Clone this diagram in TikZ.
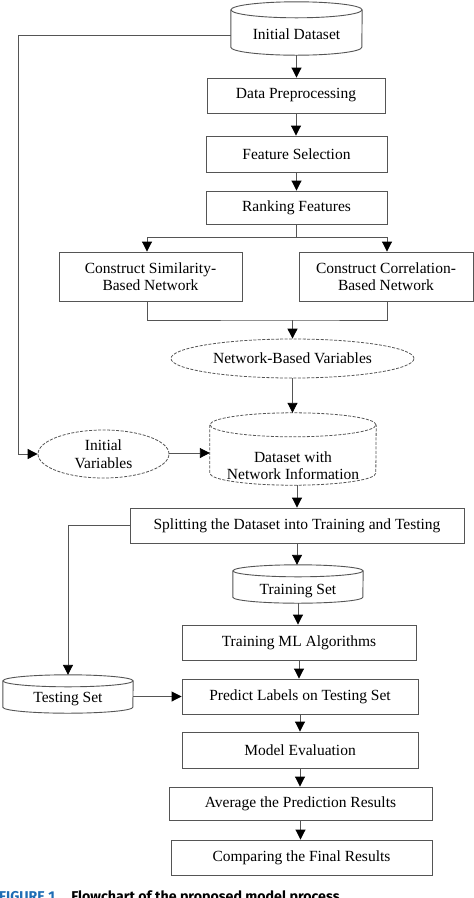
\documentclass[tikz,border=0pt]{standalone}
\usepackage{fontspec}
\setmainfont{Liberation Serif}
\newfontfamily\capfont{Fira Sans}
\usetikzlibrary{arrows.meta,shapes.geometric,calc}
\definecolor{lc}{HTML}{555555}
\definecolor{capblue}{HTML}{1F6DB5}
\newcommand\cylout[4]{%
  \draw[#4] ($(#1.north)+(0pt,-#3pt)$) ellipse [x radius=#2pt, y radius=#3pt];
  \draw[#4] ($(#1.north west)+(0pt,-#3pt)$) -- ($(#1.south west)+(0pt,#3pt)$)
     arc[start angle=180, end angle=360, x radius=#2pt, y radius=#3pt]
     -- ($(#1.north east)+(0pt,-#3pt)$);
}
\begin{document}
\begin{tikzpicture}[x=1pt,y=-1pt,
  every node/.style={font=\fontsize{15.5}{17.5}\selectfont, inner sep=0pt, align=center},
  box/.style 2 args={draw=lc, line width=0.9pt, rectangle, minimum width=#1pt, minimum height=#2pt},
  cyl/.style n args={3}{rectangle, minimum width=#1pt, minimum height=#2pt, text height=#3pt, text depth=3.5pt},
  dell/.style 2 args={draw=lc, line width=0.8pt, ellipse, dash pattern=on 3pt off 1.5pt, minimum width=#1pt, minimum height=#2pt},
  outl/.style={draw=lc, line width=0.9pt},
  doutl/.style={draw=lc, line width=0.8pt, dash pattern=on 3pt off 1.5pt},
  line/.style={draw=lc, line width=0.9pt},
  arr/.style={draw=lc, line width=0.9pt, -{Triangle[length=10pt,width=10pt,color=black]}}]
\useasboundingbox (0,0) rectangle (474,898);
\fill[white] (0,0) rectangle (474,898);

% nodes
\node[cyl={131}{53}{24.5}] (ids) at (296.5,28.5) {Initial Dataset};
\node[box={178}{35}] (dp) at (296,95.5) {Data Preprocessing};
\node[box={181}{36}] (fs) at (296.5,154) {Feature Selection};
\node[box={181}{33}] (rf) at (296.5,207.5) {Ranking Features};
\node[box={183}{49}] (sim) at (150.5,276.5) {Construct Similarity-\\Based Network};
\node[box={174}{49}] (cor) at (386,276.5) {Construct Correlation-\\Based Network};
\node[dell={243}{39}] (nbv) at (292.5,358.5) {Network-Based Variables};
\node[cyl={166}{72}{64.5}] (dwn) at (293,449) {Dataset with\\Network Information};
\node[dell={131}{48}] (iv) at (103.5,454) {Initial\\Variables};
\node[box={334}{35}] (split) at (297,525.5) {Splitting the Dataset into Training and Testing};
\node[cyl={130}{38}{24.5}] (train) at (298,584) {Training Set};
\node[box={234}{35}] (tml) at (299,642.5) {Training ML Algorithms};
\node[cyl={130}{38}{20.5}] (test) at (68,694) {Testing Set};
\node[box={236}{35}] (pred) at (300,696.5) {Predict Labels on Testing Set};
\node[box={236}{36}] (me) at (300,750) {Model Evaluation};
\node[box={263}{33}] (avg) at (300.5,803.5) {Average the Prediction Results};
\node[box={261}{35}] (cmp) at (301.5,857.5) {Comparing the Final Results};

% cylinder outlines
\cylout{ids}{65.5}{8}{outl}
\cylout{dwn}{83}{12}{doutl}
\cylout{train}{65}{6}{outl}
\cylout{test}{65}{6}{outl}

% connectors
\draw[arr] ([yshift=-6.5pt]ids.west) -| ($(iv.west)+(-19pt,0pt)$) -- (iv.west);
\draw[arr] (ids.south) -- (ids.south |- dp.north);
\draw[arr] (dp.south) -- (dp.south |- fs.north);
\draw[arr] (fs.south) -- (fs.south |- rf.north);
\coordinate (j1) at ($(rf.south)+(0pt,-13pt)$);
\draw[line] (rf.south) -- (j1);
\draw[arr] (j1) -| ([xshift=-3.5pt]sim.north);
\draw[arr] (j1) -| ([xshift=1pt]cor.north);
\coordinate (j2) at (292.5,320);
\draw[line] ([xshift=-3.5pt]sim.south) |- (j2) -| ([xshift=1pt]cor.south);
\draw[arr] (j2) -- (nbv.north);
\draw[arr] (nbv.south) -- (nbv.south |- dwn.north);
\draw[arr] (iv.east |- 0,453) -- (dwn.west |- 0,453);
\draw[arr] (split.north |- dwn.south) -- (split.north);
\draw[arr] (split.west) -| (test.north);
\draw[arr] (split.south) -- (split.south |- train.north);
\draw[arr] (train.south) -- (train.south |- tml.north);
\draw[arr] (tml.south) -- (tml.south |- pred.north);
\draw[arr] (test.east |- pred.west) -- (pred.west);
\draw[arr] (pred.south) -- (pred.south |- me.north);
\draw[arr] (me.south) -- (me.south |- avg.north);
\draw[arr] (avg.south) -- (avg.south |- cmp.north);

% caption (cut off at the bottom edge, as in the reference)
\node[anchor=base west, align=left, font=\capfont\bfseries\fontsize{14.2}{16}\selectfont] (cap) at (-1,901.5)
  {\textcolor{capblue}{FIGURE 1.}\hspace{13pt}Flowchart of the proposed model process};
\end{tikzpicture}
\end{document}
